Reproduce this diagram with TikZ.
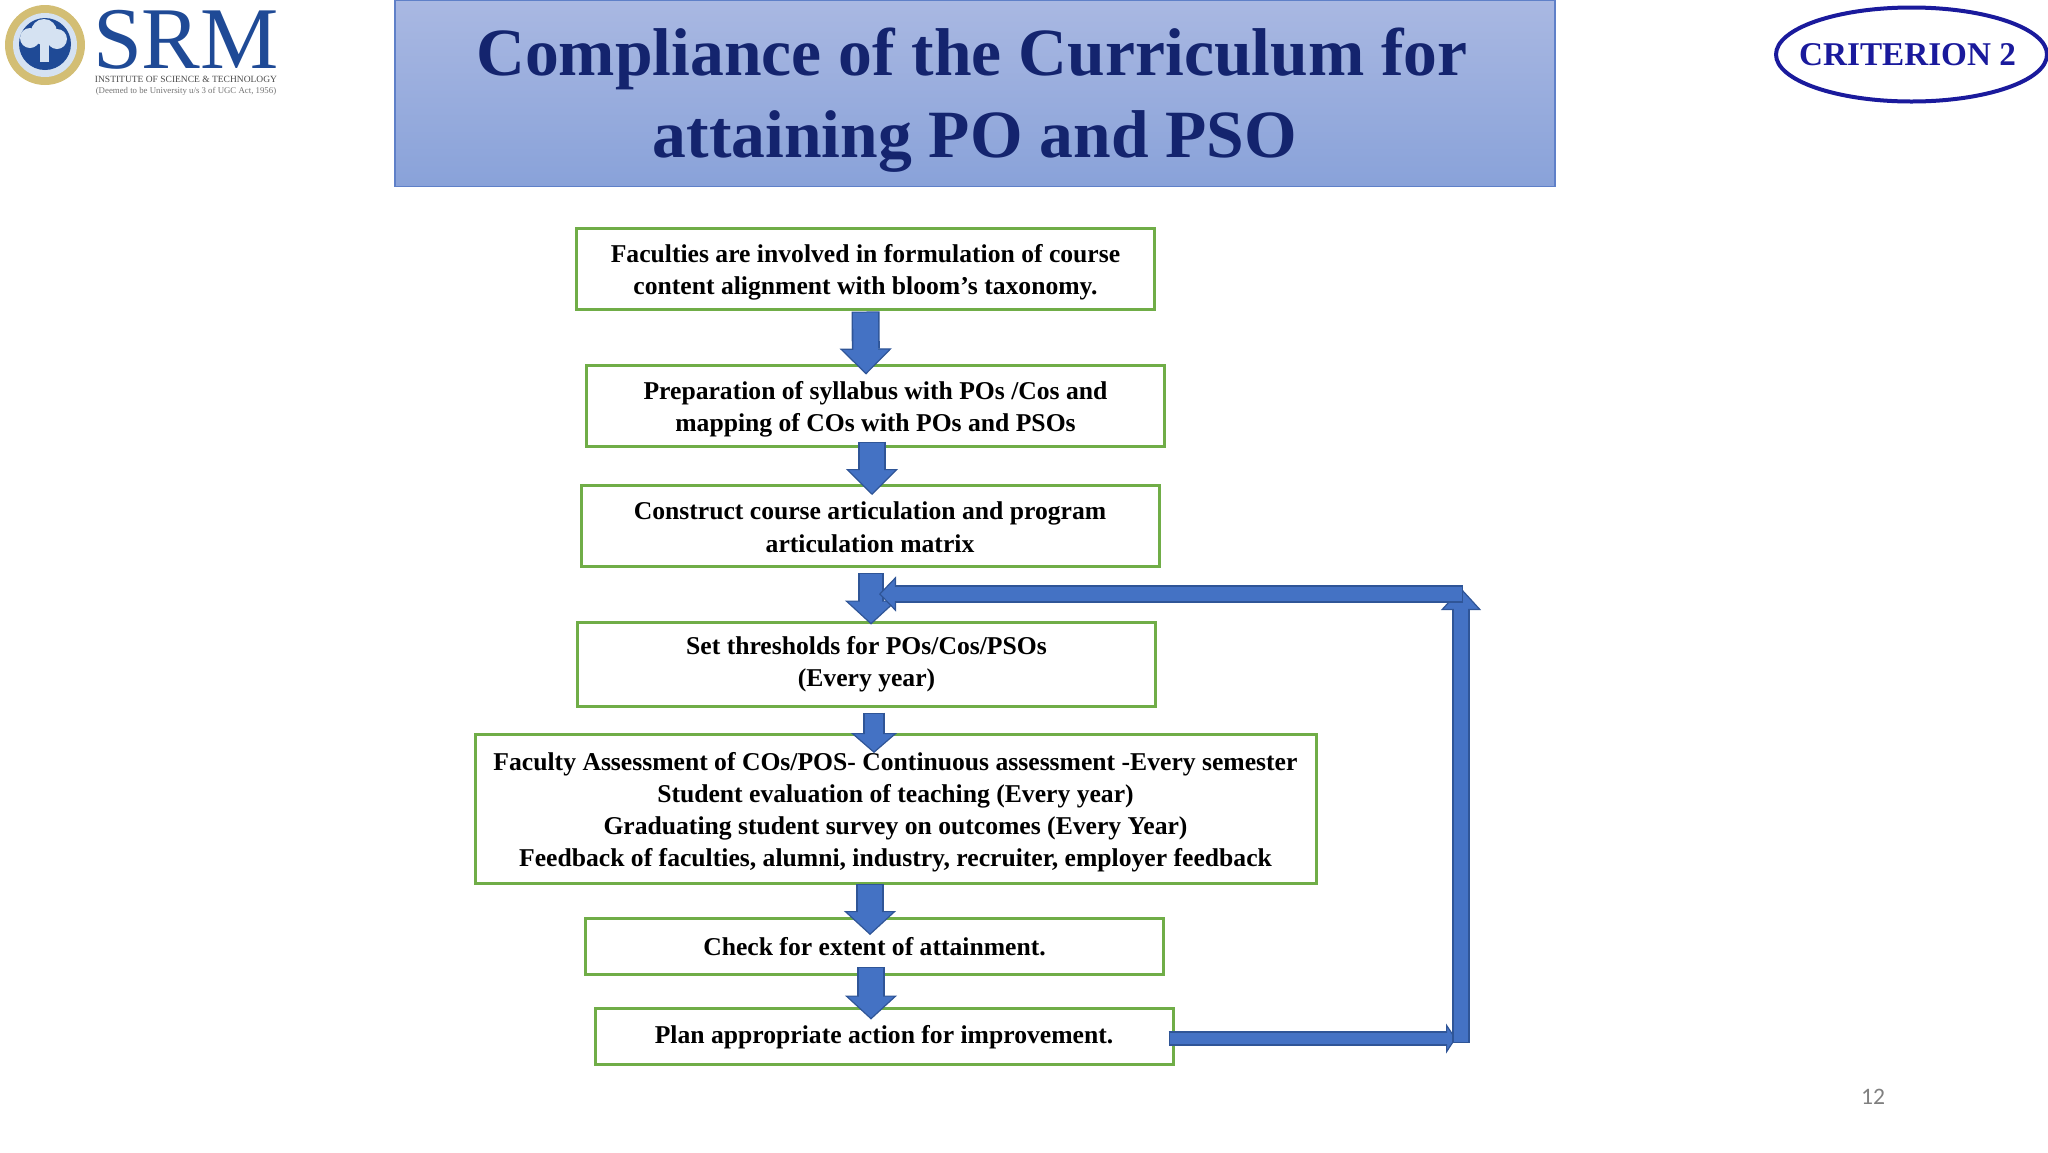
\documentclass[tikz,border=0pt]{standalone}
\usepackage{fontspec}
\setmainfont{Liberation Serif}
\newfontfamily\pagefont{Carlito}
\usetikzlibrary{arrows.meta, shapes.geometric}
\definecolor{flowblue}{HTML}{4472C4}
\definecolor{flowedge}{HTML}{2F5597}
\definecolor{boxgreen}{HTML}{70AD47}
\definecolor{titleink}{HTML}{14246E}
\definecolor{titletop}{HTML}{A9B8E2}
\definecolor{titlebot}{HTML}{89A2D9}
\definecolor{titleedge}{HTML}{5F80C8}
\definecolor{critink}{HTML}{1A1A9C}
\definecolor{srmblue}{HTML}{1F4A96}
\definecolor{srmgold}{HTML}{D3BE74}
\definecolor{srmpale}{HTML}{D5E2F2}
\newcommand{\dropline}[1]{\rule{0pt}{#1}}

\begin{document}
\begin{tikzpicture}[x=0.5pt,y=-0.5pt,node distance=60pt]
\tikzset{stepbox/.style={draw=boxgreen,line width=1.5pt,fill=none,text=black,align=center,
                         inner sep=0pt,minimum width=289pt,minimum height=40.5pt,
                         font=\fontsize{12.82pt}{16.2pt}\selectfont\bfseries}}
\tikzset{flow/.style n args={3}{draw=flowedge,line width=#1,
                         -{Triangle[length=#3,width=#2,line width=0.6pt,fill=flowblue]},
                         postaction={draw=flowblue,line width=#1-1.6pt,-,shorten >=#3-1pt,shorten <=0.5pt}}}

\useasboundingbox (0,0) rectangle (2048,1152);

        % logo
        \fill[fill=srmgold] (45,45) circle (40);
        \fill[fill=srmpale] (45,45) circle (32);
        \fill[fill=srmblue] (45,44) circle (26);
        \fill[fill=srmpale] (30,38) circle (10);
        \fill[fill=srmpale] (44,32) circle (13);
        \fill[fill=srmpale] (57,39) circle (10);
        \fill[fill=srmpale] (40,36) rectangle (49,62);
        \node[text=srmblue,font=\fontsize{44pt}{44pt}\selectfont,inner sep=0pt] (srm) at (186,40) {SRM};
        \node[text=black!70,font=\fontsize{4.75pt}{5pt}\selectfont,inner sep=0pt] (srm1) at (186,79) {INSTITUTE OF SCIENCE \& TECHNOLOGY};
        \node[text=black!55,font=\fontsize{4.4pt}{5pt}\selectfont,inner sep=0pt] (srm2) at (186,91) {(Deemed to be University u/s 3 of UGC Act, 1956)};

        % title and badge
        \node[draw=titleedge,line width=0.8pt,top color=titletop,bottom color=titlebot,
              minimum width=580pt,minimum height=93pt,inner sep=0pt,align=center,text=titleink,
              font=\fontsize{33.8pt}{41pt}\selectfont\bfseries] (title) at (975,93.5)
              {\dropline{30pt}Compliance of the Curriculum for\hspace*{3.1pt}\\attaining PO and PSO};
        \node[ellipse,draw=critink,line width=2pt,minimum width=135.5pt,minimum height=47pt,inner sep=0pt,inner xsep=-12pt,text=critink,
              font=\fontsize{16.6pt}{18pt}\selectfont\bfseries] (crit) at (1911.5,54.5)
              {CRITERION 2\hspace*{4pt}};

        % steps
        \node[stepbox] (box1) at (865.5,268.5) {\dropline{12.7pt}Faculties are involved in formulation of course\\content alignment with bloom’s taxonomy.};
        \node[stepbox,node distance=68.5pt,xshift=5pt] (box2) [below of=box1] {\dropline{12.7pt}Preparation of syllabus with POs /Cos and\\mapping of COs with POs and PSOs};
        \node[stepbox,node distance=60.25pt,xshift=-2.75pt] (box3) [below of=box2] {\dropline{10pt}Construct course articulation and program\\articulation matrix};
        \node[stepbox,node distance=69pt,xshift=-1.75pt,minimum height=42pt] (box4) [below of=box3] {Set thresholds for POs/Cos/PSOs\\(Every year)};
        \node[stepbox,node distance=72.5pt,xshift=14.5pt,minimum width=420.5pt,minimum height=74.5pt,
              font=\fontsize{12.82pt}{15.9pt}\selectfont\bfseries] (box5) [below of=box4]
              {\dropline{12.2pt}Faculty Assessment of COs/POS- Continuous assessment -Every semester\\Student evaluation of teaching (Every year)\\Graduating student survey on outcomes (Every Year)\\Feedback of faculties, alumni, industry, recruiter, employer feedback};
        \node[stepbox,node distance=68.75pt,xshift=-10.5pt,minimum height=28pt] (box6) [below of=box5] {Check for extent of attainment.};
        \node[stepbox,node distance=44.75pt,xshift=4.75pt,minimum height=28pt] (box7) [below of=box6] {\dropline{10pt}Plan appropriate action for improvement.};

        \node[text=black!50,font=\pagefont\fontsize{11.8pt}{14pt}\selectfont,inner sep=0pt] (pagenum) at (1873,1097) {12};

        % down arrows
        \draw[flow={14pt}{26pt}{13pt}] ([yshift=-0.5pt]box1.south) -- ([xshift=-4.75pt,yshift=-5.5pt]box2.north);
        \draw[flow={14pt}{26pt}{13pt}] ([xshift=-1.75pt,yshift=3pt]box2.south) -- ([xshift=1pt,yshift=-5.5pt]box3.north);
        \draw[flow={13pt}{26pt}{12pt}] ([xshift=0.5pt,yshift=-2.5pt]box3.south) -- ([xshift=2.25pt,yshift=-2pt]box4.north);
        \draw[flow={11pt}{23pt}{10pt}] ([xshift=3.75pt,yshift=-2.5pt]box4.south) -- ([xshift=-10.75pt,yshift=-10pt]box5.north);
        \draw[flow={14pt}{26pt}{12pt}] ([xshift=-12.75pt,yshift=0.5pt]box5.south) -- ([xshift=-2.25pt,yshift=-9pt]box6.north);
        \draw[flow={14pt}{26pt}{12pt}] ([xshift=-1.75pt,yshift=4.5pt]box6.south) -- ([xshift=-6.5pt,yshift=-6.5pt]box7.north);

        % loop back
        \coordinate (backb) at (1456,1038.5);
        \coordinate (backv) at (1461,1043);
        \coordinate (backt) at (1461,588);
        \coordinate (backh) at (1463,594);
        \draw[flow={7.5pt}{15pt}{5pt}] ([xshift=-3pt]box7.east |- backb) -- (backb);
        \draw[flow={9pt}{20pt}{11pt}] (backv) -- (backt);
        \draw[flow={9pt}{17.5pt}{8.5pt}] (backh) -- ([xshift=6.25pt]box4.north |- backh);

\end{tikzpicture}
\end{document}
